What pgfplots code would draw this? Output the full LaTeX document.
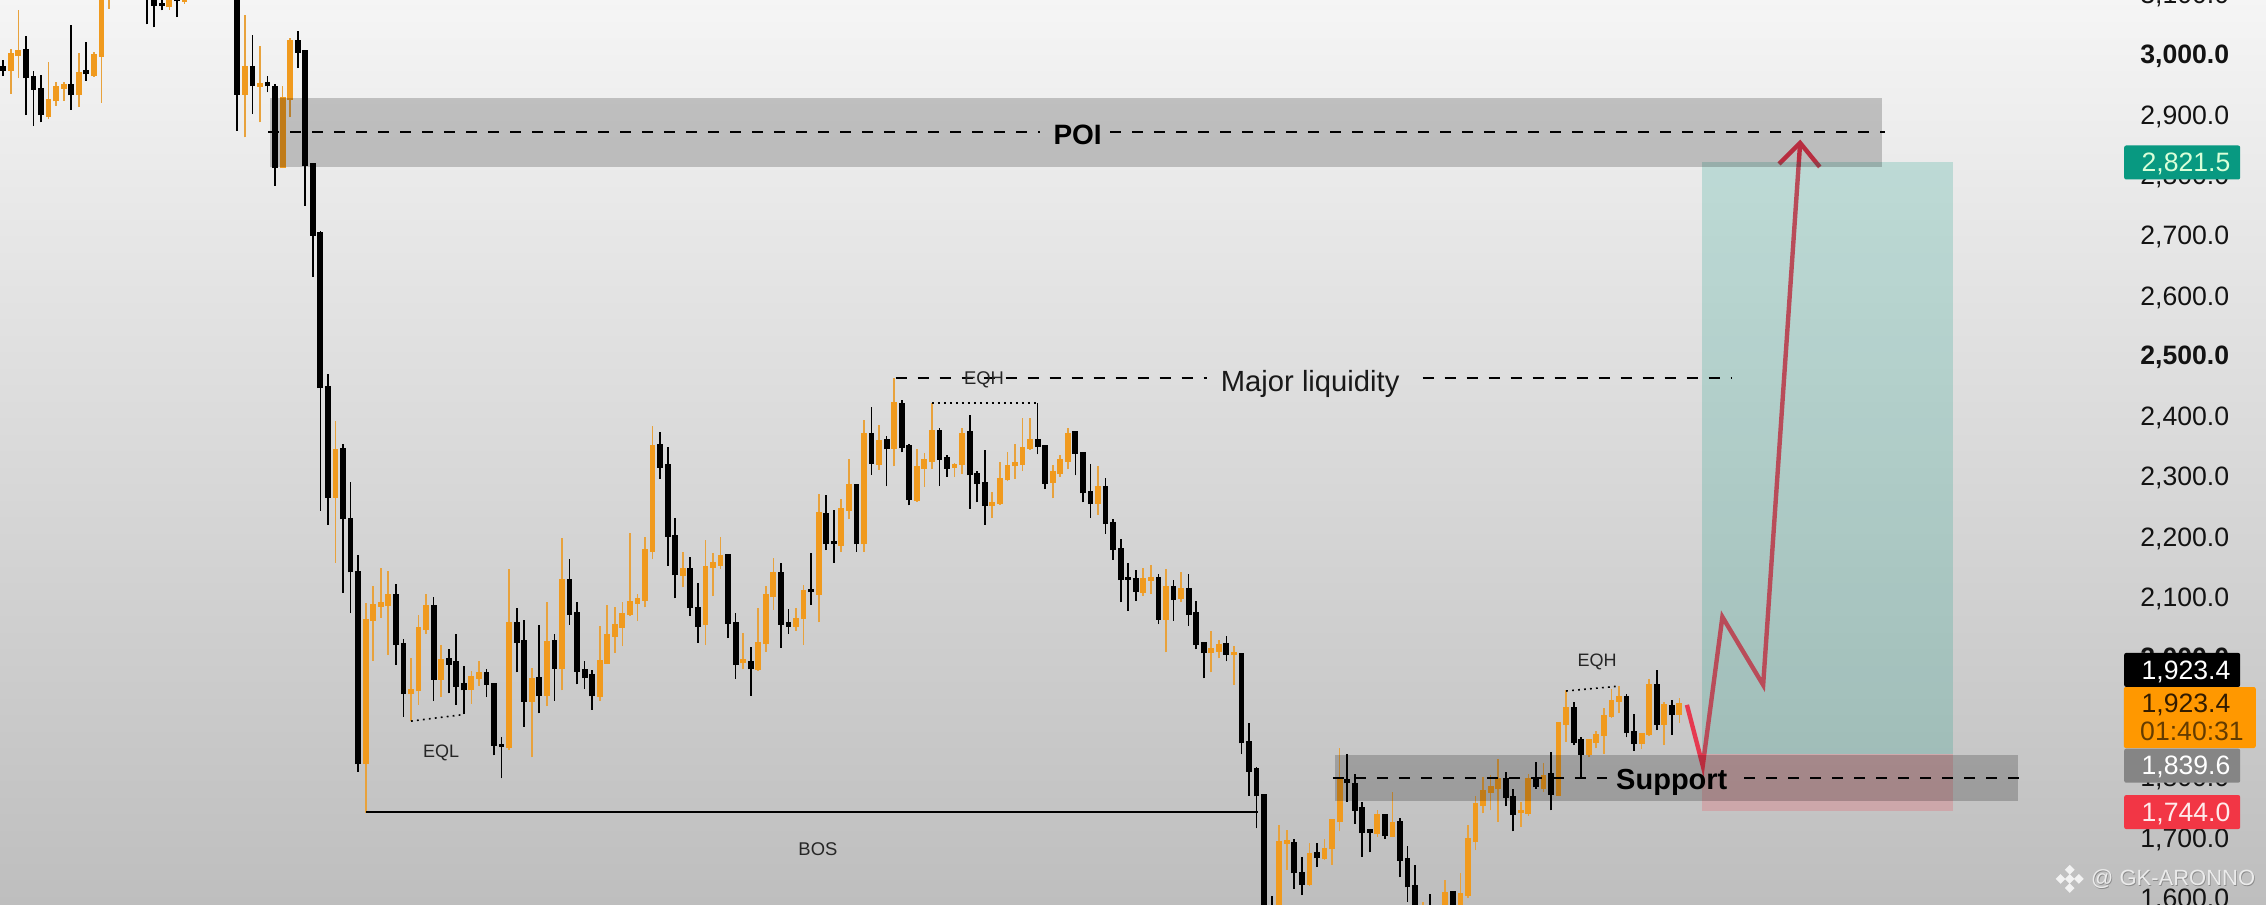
\documentclass[border=0pt]{standalone}
\usepackage{fontspec}
\setmainfont{Liberation Sans}
\usepackage{pgfplots}
\usepackage{pgfplotstable}
\pgfplotsset{compat=1.18}
\usetikzlibrary{shapes.geometric}
\definecolor{cOr}{HTML}{F09A1E}
\definecolor{cOw}{HTML}{E8A23C}
\definecolor{cTick}{HTML}{131313}
\definecolor{cArrow}{HTML}{E63950}
\definecolor{cTeal}{RGB}{8,153,129}
\definecolor{cRed}{RGB}{242,54,69}
\definecolor{cBadgeO}{RGB}{255,152,0}
% x h t b l : index, high, body top, body bottom, low
\pgfplotstableread{
x h t b l
0 2991 2978 2974 2965
3 3032 3007 2961 2900
4 2974 2962 2942 2882
5 2967 2943 2900 2888
9 3050 2948 2933 2909
11 3021 2972 2968 2957
19 3170 3150 3100 3051
20 3140 3120 3082 3046
21 3091 3084 3081 3074
23 3130 3110 3089 3063
31 3170 3150 2934 2874
33 3034 2978 2948 2902
35 2965 2952 2948 2938
36 2952 2946 2812 2783
39 3039 3022 3004 2978
40 3007 3005 2815 2750
41 2821 2818 2700 2631
42 2708 2703 2447 2243
43 2471 2448 2265 2220
45 2354 2344 2229 2107
46 2291 2229 2141 2073
47 2169 2141 1822 1810
52 2122 2102 2020 1988
53 2030 2020 1939 1901
57 2100 2083 1963 1927
59 2014 1996 1988 1940
60 2038 1990 1951 1921
61 1985 1954 1945 1905
64 1980 1972 1954 1934
65 1957 1955 1853 1837
66 1867 1853 1851 1799
68 2081 2056 2024 1975
69 2062 2025 1926 1885
71 2054 1964 1936 1907
73 2039 2025 1981 1928
75 2163 2127 2070 2054
76 2091 2072 1976 1955
77 1994 1977 1965 1947
78 1979 1969 1935 1913
87 2374 2351 2315 2296
88 2349 2318 2200 2152
89 2232 2200 2136 2098
91 2166 2145 2081 2069
92 2124 2081 2051 2024
96 2170 2168 2055 2032
97 2073 2056 1987 1964
99 2017 1990 1980 1936
103 2156 2138 2054 2016
104 2080 2055 2051 2039
107 2173 2111 2108 2087
109 2269 2237 2188 2178
110 2245 2190 2188 2157
113 2287 2284 2188 2175
115 2415 2369 2321 2303
117 2367 2360 2345 2284
119 2427 2419 2347 2340
120 2354 2350 2261 2252
124 2380 2375 2328 2284
125 2336 2329 2313 2300
128 2402 2373 2302 2247
129 2310 2303 2288 2257
130 2344 2288 2251 2220
137 2422 2359 2349 2337
138 2351 2350 2288 2279
142 2373 2372 2338 2302
143 2339 2338 2272 2257
144 2321 2273 2255 2232
146 2297 2282 2221 2205
147 2229 2222 2178 2162
148 2196 2178 2128 2091
149 2156 2131 2129 2077
150 2145 2129 2109 2094
153 2139 2131 2062 2055
155 2128 2115 2095 2061
157 2138 2112 2070 2052
158 2094 2072 2020 2013
159 2026 2022 2007 1965
162 2035 2020 2004 1993
164 2004 2004 1857 1839
165 1891 1858 1810 1770
166 1818 1813 1769 1716
167 1773 1770 1570 1550
168 1603 1575 1560 1550
171 1698 1690 1641 1616
172 1669 1640 1622 1605
174 1691 1673 1666 1652
178 1839 1795 1791 1760
179 1806 1789 1745 1724
180 1759 1748 1708 1669
181 1715 1712 1709 1676
183 1737 1737 1703 1699
185 1733 1725 1662 1635
186 1687 1664 1618 1594
187 1655 1619 1575 1560
189 1607 1580 1570 1560
192 1611 1609 1570 1560
199 1809 1796 1767 1753
200 1781 1767 1738 1711
203 1826 1795 1784 1782
205 1842 1805 1771 1746
208 1925 1915 1858 1854
209 1867 1861 1838 1801
215 1939 1932 1874 1867
216 1906 1875 1856 1845
219 1979 1952 1888 1879
221 1929 1917 1904 1871
}\blk
\pgfplotstableread{
x h t b l
1 3010 3000 2974 2936
2 3074 3005 2998 2962
6 2989 2924 2897 2893
7 2955 2946 2923 2916
8 2955 2949 2944 2924
10 3003 2969 2933 2914
12 3005 2998 2965 2964
13 3200 3150 2997 2921
14 3170 3150 3100 3077
22 3130 3110 3079 3075
24 3120 3105 3088 3085
32 3066 2978 2934 2863
34 3015 2950 2947 2888
37 2948 2927 2812 2812
38 3029 3022 2926 2897
44 2392 2342 2265 2157
48 2090 2060 1822 1742
49 2119 2085 2060 1994
50 2148 2088 2084 2066
51 2143 2102 2085 2004
54 1999 1945 1939 1894
55 2071 2047 1944 1921
56 2105 2083 2045 2039
58 2020 1994 1963 1934
62 1978 1966 1945 1923
63 1994 1972 1964 1953
67 2146 2055 1849 1846
70 1983 1963 1926 1834
72 2091 2024 1936 1919
74 2198 2127 1980 1945
79 2052 1992 1934 1928
80 2086 2035 1989 1989
81 2084 2052 2034 2007
82 2092 2071 2049 2018
83 2207 2091 2070 2069
84 2105 2096 2089 2060
85 2200 2177 2094 2083
86 2384 2350 2175 2163
90 2174 2145 2135 2116
93 2195 2149 2053 2020
94 2173 2155 2148 2102
95 2199 2166 2152 2146
98 2041 1994 1990 1980
100 2081 2022 1979 1978
101 2119 2102 2022 2009
102 2164 2138 2100 2079
105 2081 2063 2050 2044
106 2120 2108 2063 2020
108 2271 2239 2103 2058
111 2263 2245 2185 2175
112 2329 2284 2243 2229
114 2394 2369 2188 2175
116 2386 2357 2319 2311
118 2463 2421 2346 2317
121 2346 2314 2260 2258
122 2339 2326 2313 2283
123 2423 2375 2325 2312
126 2322 2318 2314 2299
127 2380 2369 2319 2305
131 2275 2255 2251 2231
132 2325 2294 2255 2253
133 2341 2317 2294 2292
134 2354 2321 2317 2296
135 2397 2346 2320 2309
136 2398 2359 2346 2344
139 2319 2307 2289 2264
140 2336 2326 2305 2299
141 2381 2369 2324 2312
145 2318 2282 2255 2237
151 2148 2128 2107 2102
152 2154 2131 2127 2105
154 2147 2115 2062 2008
156 2141 2112 2096 2091
160 2043 2012 2007 1975
161 2028 2019 2009 1998
163 2019 2006 2003 1954
169 1722 1692 1570 1560
170 1714 1694 1690 1647
173 1692 1672 1622 1620
175 1698 1681 1665 1664
176 1731 1729 1681 1655
177 1849 1796 1726 1711
182 1746 1737 1706 1702
184 1777 1724 1702 1701
188 1594 1585 1570 1560
191 1630 1608 1570 1560
193 1641 1605 1570 1560
194 1722 1697 1604 1600
195 1769 1755 1694 1680
196 1802 1777 1753 1741
197 1805 1784 1775 1746
198 1831 1796 1781 1727
201 1760 1744 1741 1719
202 1807 1796 1740 1737
204 1824 1802 1781 1777
206 1893 1890 1770 1769
207 1945 1915 1888 1860
210 1863 1861 1838 1834
211 1877 1869 1858 1849
212 1915 1901 1869 1839
213 1948 1926 1901 1900
214 1953 1932 1926 1907
217 1875 1871 1856 1847
218 1964 1952 1871 1869
220 1926 1919 1888 1854
222 1932 1921 1904 1891
}\org
\newcommand{\candles}[3]{%
  \addplot[draw=none,mark=none,forget plot,error bars/.cd,y dir=plus,y explicit,error mark=none,
    error bar style={line width=.85pt,draw=#2}]
    table[x=x,y=l,y error plus expr=\thisrow{h}-\thisrow{l}]{#1};
  \addplot[draw=none,mark=none,forget plot,error bars/.cd,y dir=plus,y explicit,error mark=none,
    error bar style={line width=2.9pt,draw=#3}]
    table[x=x,y=b,y error plus expr=\thisrow{t}-\thisrow{b}+3]{#1};
}
\newcommand{\badge}[7]{% xc, yc, w, h, fill, textcol, text
  \node[fill=#5,minimum width=#3,minimum height=#4,inner sep=0pt,rounded corners=1pt] at (axis cs:#1,#2) {};
  \node[text=#6,inner sep=0pt,yshift=-.8pt,font=\fontsize{13.3}{15}\selectfont] at (axis cs:289.1,#2) {#7};
}
\newcommand{\wm}[2]{\node[diamond,aspect=1,fill=white,fill opacity=.8,minimum size=5pt,inner sep=0pt,xshift=#1,yshift=#2] at (axis cs:273.7,1632) {};}
\tikzset{dsh/.style={black,line width=.95pt,dash pattern=on 5.5pt off 5.5pt},
  lbl/.style={yshift=-1.5pt}}
\pgfplotsset{mainlim/.style={
  at={(0,0)},anchor=south west,
  width=1133pt,height=452.5pt,scale only axis,
  xmin=-0.437,xmax=299.7,ymin=1588.7,ymax=3091.3}}
\begin{document}
\begin{tikzpicture}
\useasboundingbox (0,0) rectangle (1133pt,452.5pt);
\begin{axis}[mainlim,
  axis background/.style={shade,top color=white!96!black,bottom color=white!74.5!black},
  axis line style={draw=none},major tick length=0pt,xtick=\empty,
  ytick={1600,1700,1800,1900,2000,2100,2200,2300,2400,2500,2600,2700,2800,2900,3000},
  yticklabels={{1,600.0},{1,700.0},{1,800.0},{1,900.0},{\textbf{2,000.0}},{2,100.0},{2,200.0},{2,300.0},{2,400.0},{\textbf{2,500.0}},{2,600.0},{2,700.0},{2,800.0},{2,900.0},{\textbf{3,000.0}}},
  yticklabel pos=right,
  yticklabel style={anchor=west,xshift=-63pt,yshift=-.8pt,inner sep=0pt,text=cTick,font=\fontsize{13.3}{15}\selectfont},
]
\candles{\org}{cOw}{cOr}
\candles{\blk}{black}{black}
% projected path
\addplot[cArrow,line width=2.2pt,line join=miter,mark=none] coordinates {(223,1921)(225.1,1820)(227.7,2067)(233.1,1954)(238,2854)};
\addplot[cArrow,line width=2.2pt,mark=none] coordinates {(235.2,2819)(238,2854)(240.6,2814)};
% long position
\addplot[draw=none,fill=cTeal,fill opacity=.2,mark=none] coordinates {(225,1839.6)(258.2,1839.6)(258.2,2821.5)(225,2821.5)} --cycle;
\addplot[draw=none,fill=cRed,fill opacity=.2,mark=none] coordinates {(225,1744)(258.2,1744)(258.2,1839.6)(225,1839.6)} --cycle;
% zones
\addplot[draw=none,fill=black,fill opacity=.2,mark=none] coordinates {(35.32,2814)(248.8,2814)(248.8,2928.6)(35.32,2928.6)} --cycle;
\addplot[draw=none,fill=black,fill opacity=.2,mark=none] coordinates {(176.4,1761.4)(266.9,1761.4)(266.9,1837.8)(176.4,1837.8)} --cycle;
% dashed levels
\addplot[dsh,mark=none] coordinates {(35.1,2872.7)(137.3,2872.7)};
\addplot[dsh,mark=none] coordinates {(146.6,2872.7)(249.2,2872.7)};
\addplot[dsh,mark=none] coordinates {(118.2,2463)(159.4,2463)};
\addplot[dsh,mark=none] coordinates {(188,2463)(228.8,2463)};
\addplot[dsh,mark=none] coordinates {(176.1,1799.6)(212.4,1799.6)};
\addplot[dsh,mark=none] coordinates {(230.6,1799.6)(267.1,1799.6)};
% BOS line and equal highs / lows
\addplot[black,line width=1pt,mark=none] coordinates {(48,1743.7)(166.2,1743.7)};
\addplot[black,line width=.8pt,dash pattern=on .9pt off 2.1pt,mark=none] coordinates {(123,2422)(137,2422)};
\addplot[black,line width=.8pt,dash pattern=on .9pt off 2.1pt,mark=none] coordinates {(54,1894)(61,1905)};
\addplot[black,line width=.8pt,dash pattern=on .9pt off 2.1pt,mark=none] coordinates {(207,1944)(213.9,1952)};
% labels
\node[yshift=-.6pt,font=\fontsize{14}{16}\selectfont\bfseries,text=black] at (axis cs:142.3,2869) {POI};
\node[lbl,font=\fontsize{14.6}{16}\selectfont,text=black!90] at (axis cs:173.1,2459) {Major liquidity};
\node[lbl,font=\fontsize{9.2}{11}\selectfont,text=black!85] at (axis cs:129.9,2465) {EQH};
\node[lbl,font=\fontsize{9}{11}\selectfont,text=black!85] at (axis cs:58,1846) {EQL};
\node[yshift=-.5pt,font=\fontsize{9.2}{11}\selectfont,text=black!85] at (axis cs:107.9,1683) {BOS};
\node[lbl,font=\fontsize{9}{11}\selectfont,text=black!85] at (axis cs:211.1,1997) {EQH};
\node[lbl,font=\fontsize{14.5}{16}\selectfont\bfseries,text=black] at (axis cs:221,1798) {Support};
\end{axis}
% overlay: price badges and watermark, above the tick labels
\begin{axis}[mainlim,hide axis,clip=false]
\node[anchor=west,inner sep=0pt,text=cTick,yshift=-.8pt,font=\fontsize{13.3}{15}\selectfont] at (axis cs:283,3100) {3,100.0};
\badge{288.6}{2821.5}{58pt}{17pt}{cTeal}{white!85!green}{2,821.5}
\badge{288.6}{1979}{58pt}{17pt}{black}{white}{1,923.4}
\node[fill=cBadgeO,minimum width=66pt,minimum height=30.5pt,inner sep=0pt,rounded corners=1pt] at (axis cs:289.6,1900) {};
\node[text={rgb,255:red,50;green,28;blue,0},inner sep=0pt,yshift=-.8pt,font=\fontsize{13.3}{15}\selectfont] at (axis cs:289.1,1924) {1,923.4};
\node[text={rgb,255:red,100;green,60;blue,0},inner sep=0pt,yshift=-.8pt,font=\fontsize{13.3}{15}\selectfont] at (axis cs:289.9,1879) {01:40:31};
\badge{288.6}{1820}{58pt}{17pt}{white!52!black}{white}{1,839.6}
\badge{288.6}{1743}{58pt}{17pt}{cRed}{white!92!red}{1,744.0}
% watermark
\wm{0pt}{0pt}\wm{4.6pt}{0pt}\wm{-4.6pt}{0pt}\wm{0pt}{4.6pt}\wm{0pt}{-4.6pt}
\node[text=black!45,font=\fontsize{11}{13}\selectfont,xshift=.4pt,yshift=-.4pt] at (axis cs:287.4,1632) {@ GK-ARONNO};
\node[text=white!92!black,font=\fontsize{11}{13}\selectfont] at (axis cs:287.4,1632) {@ GK-ARONNO};
\end{axis}
\end{tikzpicture}
\end{document}
